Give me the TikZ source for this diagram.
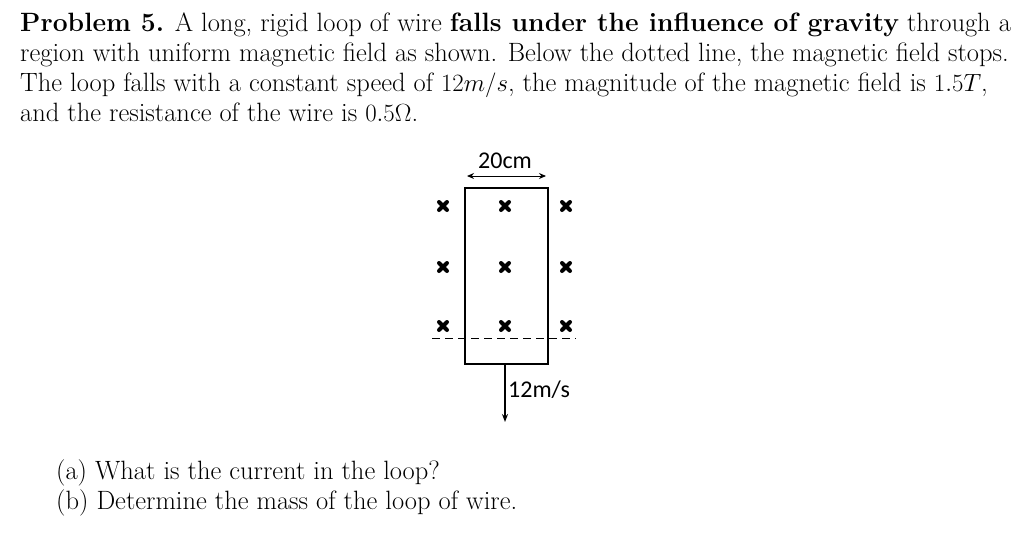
\documentclass[tikz,border=0pt]{standalone}
\usepackage{fontspec}
\newfontfamily\carlitofont{Carlito}
\usetikzlibrary{arrows.meta}
\tikzset{
  cross/.pic={\draw[line width=4pt,line cap=round] (-4,-4)--(4,4) (-4,4)--(4,-4);},
  lbl/.style={font=\carlitofont\fontsize{24}{26}\selectfont, inner sep=0pt},
  txt/.style={anchor=north west, inner sep=0pt, align=left, font=\fontsize{26.5}{30}\selectfont}
}
\begin{document}
\begin{tikzpicture}[x=1pt,y=-1pt]
\useasboundingbox (0,0) rectangle (1024,536);
\node[txt] (prob) at (20,13) {\textbf{Problem 5.} A long, rigid loop of wire \textbf{falls under the influence of gravity} through a\\region with uniform magnetic field as shown. Below the dotted line, the magnetic field stops.\\The loop falls with a constant speed of $12m/s$, the magnitude of the magnetic field is $1.5T$,\\and the resistance of the wire is $0.5\Omega$.};
\draw[dashed, dash pattern=on 8pt off 5pt, line width=0.8pt] (432,338) coordinate (d1) -- (576,338) coordinate (d2);
\node[draw, line width=2.2pt, minimum width=83pt, minimum height=176pt, inner sep=0pt] (loop) at (506.5,276) {};
\foreach \x in {443,505,566} \foreach \y in {206,267,326} \pic at (\x,\y) {cross};
\coordinate (wl) at (467,176); \coordinate (wr) at (546,176);
\draw[-{Stealth[length=7pt,width=6pt]}, line width=1pt] (506,176) -- (wl);
\draw[-{Stealth[length=7pt,width=6pt]}, line width=1pt] (506,176) -- (wr);
\node[lbl] (w) at (505,161) {20cm};
\coordinate (vt) at (505,422);
\draw[-{Stealth[length=8pt,width=6pt]}, line width=1.4pt] (loop.south) ++(-1.5,0) -- (vt);
\node[lbl, anchor=west] (v) at (508,390) {12m/s};
\node[txt] (qs) at (56,459) {(a) What is the current in the loop?\\(b) Determine the mass of the loop of wire.};
\end{tikzpicture}
\end{document}
